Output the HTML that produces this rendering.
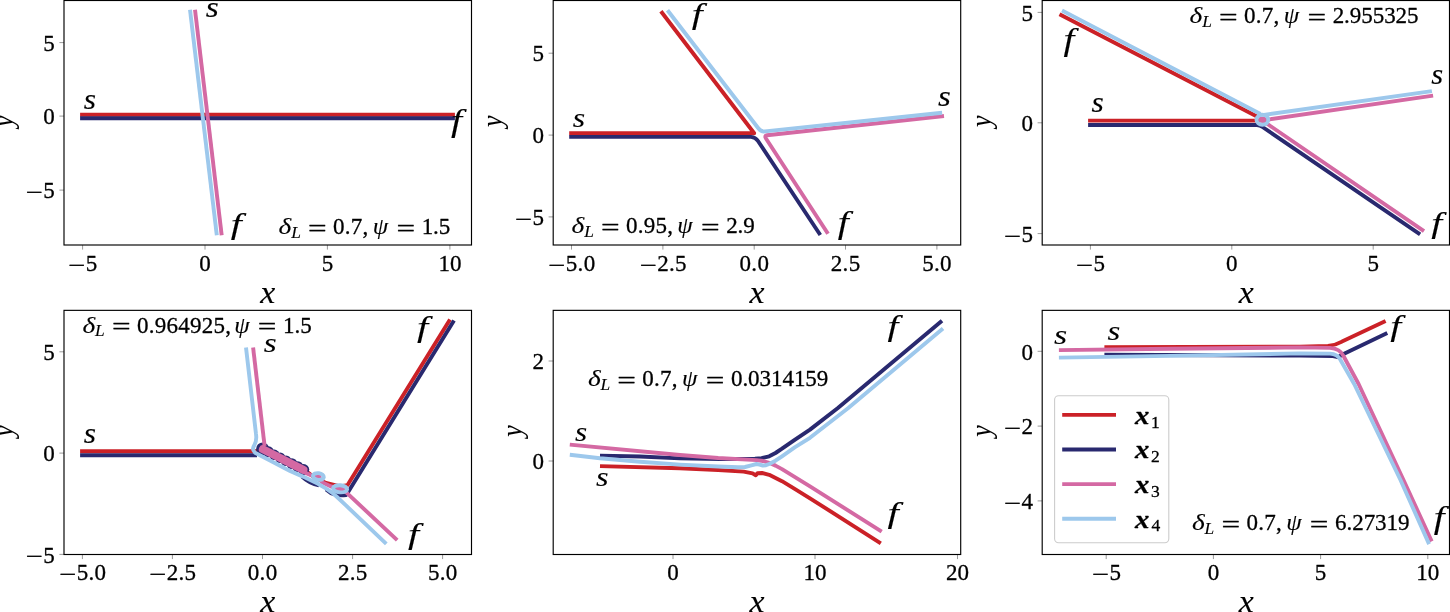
<!DOCTYPE html>
<html><head><meta charset="utf-8"><title>trajectories</title>
<style>
html,body{margin:0;padding:0;background:#fff}
svg{display:block}
text{font-family:"Liberation Serif","DejaVu Serif",serif;fill:#000;stroke:#000;stroke-width:.3px;stroke-linejoin:round}
.r{font-style:normal}
.i{font-style:italic;stroke-width:.12px}
.bi{font-style:italic;font-weight:bold}
.ln{fill:none;stroke-width:3.9;stroke-linecap:butt;stroke-linejoin:round}
.sp{fill:none;stroke:#000;stroke-width:1.15}
.tk{fill:none;stroke:#9a9a9a;stroke-width:1}
</style></head><body>
<svg width="1450" height="612" viewBox="0 0 1450 612">
<rect width="1450" height="612" fill="#fff"/>
<path class="tk" d="M82.6 245v4.6"/>
<text class="r" style="font-size:23px" transform="matrix(1.32 0 0 1 68.3 272.74)">−</text>
<text class="r" style="font-size:23px" x="85.8" y="270.9">5</text>
<path class="tk" d="M205 245v4.6"/>
<text class="r" style="font-size:23px" x="199.25" y="270.9">0</text>
<path class="tk" d="M327.4 245v4.6"/>
<text class="r" style="font-size:23px" x="321.65" y="270.9">5</text>
<path class="tk" d="M449.9 245v4.6"/>
<text class="r" style="font-size:23px" x="438.4" y="270.9">1</text>
<text class="r" style="font-size:23px" x="449.9" y="270.9">0</text>
<path class="tk" d="M64 42.6h-4.6"/>
<text class="r" style="font-size:23px" x="43.22" y="50.8">5</text>
<path class="tk" d="M64 116.1h-4.6"/>
<text class="r" style="font-size:23px" x="43.22" y="124.3">0</text>
<path class="tk" d="M64 190.1h-4.6"/>
<text class="r" style="font-size:23px" transform="matrix(1.32 0 0 1 25.72 200.14)">−</text>
<text class="r" style="font-size:23px" x="43.22" y="198.3">5</text>
<rect class="sp" x="64" y="0.5" width="407.5" height="244.5"/>
<text class="i" style="font-size:31px;" transform="matrix(1.09 0 0 1.01 260.34 302.5)">x</text>
<text class="i" style="font-size:31px" transform="matrix(0 -0.84 0.95 0 13.45 126.99)">y</text>
<path class="ln" stroke="#cb2127" d="M80.1 114.8 454.9 114.8"/>
<path class="ln" stroke="#29296f" d="M80.1 118.2 454.9 118.2"/>
<path class="ln" stroke="#d469a3" d="M195 9.8 221.7 235.3"/>
<path class="ln" stroke="#9dc8ec" d="M190 9.8 216.8 235.3"/>
<text class="i" style="font-size:31px;" transform="matrix(1.08 0 0 0.93 205.8 17.21)">s</text>
<text class="i" style="font-size:31px;" transform="matrix(1.02 0 0 0.93 83.73 109.21)">s</text>
<text class="i" style="font-size:31px;" transform="matrix(1.29 0 0 0.99 451 131.15)">f</text>
<text class="i" style="font-size:31px;" transform="matrix(1.28 0 0 0.98 230.8 234.22)">f</text>
<text class="i" style="font-size:23px" transform="matrix(1.19 0 0 1 278.58 234)">δ</text>
<text class="i" style="font-size:16.1px" transform="matrix(1.08 0 0 1 291.17 237.6)">L</text>
<text class="r" style="font-size:23px" transform="matrix(1.44 0 0 1 308.04 235.84)">=</text>
<text class="r" style="font-size:23px" x="332.98" y="234" letter-spacing="0.25">0.7,</text>
<text class="i" style="font-size:23px" transform="matrix(1.08 0 0 1 372.81 234)">ψ</text>
<text class="r" style="font-size:23px" transform="matrix(1.44 0 0 1 396.44 235.84)">=</text>
<text class="r" style="font-size:23px" x="421.67" y="234" letter-spacing="-0.05">1.5</text>
<path class="tk" d="M571.5 245v4.6"/>
<text class="r" style="font-size:23px" transform="matrix(1.32 0 0 1 548.25 272.74)">−</text>
<text class="r" style="font-size:23px" x="565.75" y="270.9">5</text>
<text class="r" style="font-size:23px" x="577.57" y="270.9">.</text>
<text class="r" style="font-size:23px" x="583.64" y="270.9">0</text>
<path class="tk" d="M662.9 245v4.6"/>
<text class="r" style="font-size:23px" transform="matrix(1.32 0 0 1 639.65 272.74)">−</text>
<text class="r" style="font-size:23px" x="657.15" y="270.9">2</text>
<text class="r" style="font-size:23px" x="668.97" y="270.9">.</text>
<text class="r" style="font-size:23px" x="675.04" y="270.9">5</text>
<path class="tk" d="M754.2 245v4.6"/>
<text class="r" style="font-size:23px" x="739.5" y="270.9">0</text>
<text class="r" style="font-size:23px" x="751.33" y="270.9">.</text>
<text class="r" style="font-size:23px" x="757.4" y="270.9">0</text>
<path class="tk" d="M845.5 245v4.6"/>
<text class="r" style="font-size:23px" x="830.8" y="270.9">2</text>
<text class="r" style="font-size:23px" x="842.62" y="270.9">.</text>
<text class="r" style="font-size:23px" x="848.7" y="270.9">5</text>
<path class="tk" d="M936.9 245v4.6"/>
<text class="r" style="font-size:23px" x="922.2" y="270.9">5</text>
<text class="r" style="font-size:23px" x="934.02" y="270.9">.</text>
<text class="r" style="font-size:23px" x="940.1" y="270.9">0</text>
<path class="tk" d="M553.2 53.2h-4.6"/>
<text class="r" style="font-size:23px" x="532.42" y="61.4">5</text>
<path class="tk" d="M553.2 135.1h-4.6"/>
<text class="r" style="font-size:23px" x="532.42" y="143.3">0</text>
<path class="tk" d="M553.2 216.9h-4.6"/>
<text class="r" style="font-size:23px" transform="matrix(1.32 0 0 1 514.92 226.94)">−</text>
<text class="r" style="font-size:23px" x="532.42" y="225.1">5</text>
<rect class="sp" x="553.2" y="0.5" width="407.5" height="244.5"/>
<text class="i" style="font-size:31px;" transform="matrix(1.09 0 0 1.01 749.54 302.5)">x</text>
<text class="i" style="font-size:31px" transform="matrix(0 -0.84 0.95 0 502.45 126.99)">y</text>
<path class="ln" stroke="#cb2127" d="M569.2 133.3 754.2 133.3 660.9 11.3"/>
<path class="ln" stroke="#29296f" d="M569.2 136.9 L751 136.9 Q755.5 137.2 758 141 L820.3 235"/>
<path class="ln" stroke="#d469a3" d="M944 116 L767 135.2 Q764.3 135.8 765.8 138.3 L828 233.7"/>
<path class="ln" stroke="#9dc8ec" d="M667.5 10.3 L758.3 128.3 Q761 131.8 765 131.4 L942.1 112.8"/>
<text class="i" style="font-size:31px;" transform="matrix(1.27 0 0 0.98 691.81 24.44)">f</text>
<text class="i" style="font-size:31px;" transform="matrix(1.03 0 0 0.91 572.72 126.82)">s</text>
<text class="i" style="font-size:31px;" transform="matrix(1.06 0 0 0.92 938.01 106.31)">s</text>
<text class="i" style="font-size:31px;" transform="matrix(1.28 0 0 0.99 837.8 233.15)">f</text>
<text class="i" style="font-size:23px" transform="matrix(1.19 0 0 1 571.58 233.4)">δ</text>
<text class="i" style="font-size:16.1px" transform="matrix(1.08 0 0 1 584.17 237)">L</text>
<text class="r" style="font-size:23px" transform="matrix(1.44 0 0 1 601.04 235.24)">=</text>
<text class="r" style="font-size:23px" x="625.98" y="233.4" letter-spacing="0.25">0.95,</text>
<text class="i" style="font-size:23px" transform="matrix(1.08 0 0 1 677.31 233.4)">ψ</text>
<text class="r" style="font-size:23px" transform="matrix(1.44 0 0 1 700.94 235.24)">=</text>
<text class="r" style="font-size:23px" x="726.16" y="233.4" letter-spacing="-0.05">2.9</text>
<path class="tk" d="M1090.4 245v4.6"/>
<text class="r" style="font-size:23px" transform="matrix(1.32 0 0 1 1076.1 272.74)">−</text>
<text class="r" style="font-size:23px" x="1093.6" y="270.9">5</text>
<path class="tk" d="M1231.8 245v4.6"/>
<text class="r" style="font-size:23px" x="1226.05" y="270.9">0</text>
<path class="tk" d="M1373.2 245v4.6"/>
<text class="r" style="font-size:23px" x="1367.45" y="270.9">5</text>
<path class="tk" d="M1042.2 12.4h-4.6"/>
<text class="r" style="font-size:23px" x="1021.42" y="20.6">5</text>
<path class="tk" d="M1042.2 122.8h-4.6"/>
<text class="r" style="font-size:23px" x="1021.42" y="131">0</text>
<path class="tk" d="M1042.2 233.6h-4.6"/>
<text class="r" style="font-size:23px" transform="matrix(1.32 0 0 1 1003.92 243.64)">−</text>
<text class="r" style="font-size:23px" x="1021.42" y="241.8">5</text>
<rect class="sp" x="1042.2" y="0.5" width="407.3" height="244.5"/>
<text class="i" style="font-size:31px;" transform="matrix(1.09 0 0 1.01 1238.64 302.5)">x</text>
<text class="i" style="font-size:31px" transform="matrix(0 -0.84 0.95 0 991.45 126.99)">y</text>
<path class="ln" stroke="#cb2127" d="M1088.1 120.6 L1259 120.6 M1059.5 14.2 L1257 116.5"/>
<path class="ln" stroke="#29296f" d="M1088.1 125.0 L1257 125.0 Q1260 125.2 1262.5 127 L1420.1 234.3"/>
<path class="ln" stroke="#d469a3" d="M1433.1 95.6 L1268 119.6 Q1262 120.5 1266 123 L1424 231.2"/>
<ellipse cx="1262.4" cy="119.8" rx="4.3" ry="3.3" fill="#d469a3"/>
<path class="ln" stroke="#9dc8ec" d="M1062 10.6 L1260.5 113.9 M1264 114.9 L1431.9 91.1 M1256.5 119.7 a5.9 5 0 1 0 11.8 0 a5.9 5 0 1 0 -11.8 0Z"/>
<text class="i" style="font-size:31px;" transform="matrix(1.26 0 0 0.99 1063.41 49.87)">f</text>
<text class="i" style="font-size:31px;" transform="matrix(1.02 0 0 0.93 1091.53 111.71)">s</text>
<text class="i" style="font-size:31px;" transform="matrix(0.99 0 0 0.93 1431.14 84.11)">s</text>
<text class="i" style="font-size:31px;" transform="matrix(1.27 0 0 0.97 1431.21 232.97)">f</text>
<text class="i" style="font-size:23px" transform="matrix(1.19 0 0 1 1189.58 23.3)">δ</text>
<text class="i" style="font-size:16.1px" transform="matrix(1.08 0 0 1 1202.17 26.9)">L</text>
<text class="r" style="font-size:23px" transform="matrix(1.44 0 0 1 1219.04 25.14)">=</text>
<text class="r" style="font-size:23px" x="1243.98" y="23.3" letter-spacing="0.25">0.7,</text>
<text class="i" style="font-size:23px" transform="matrix(1.08 0 0 1 1283.81 23.3)">ψ</text>
<text class="r" style="font-size:23px" transform="matrix(1.44 0 0 1 1307.44 25.14)">=</text>
<text class="r" style="font-size:23px" x="1332.66" y="23.3" letter-spacing="-0.05">2.955325</text>
<path class="tk" d="M82.4 554.5v4.6"/>
<text class="r" style="font-size:23px" transform="matrix(1.32 0 0 1 59.15 582.24)">−</text>
<text class="r" style="font-size:23px" x="76.65" y="580.4">5</text>
<text class="r" style="font-size:23px" x="88.47" y="580.4">.</text>
<text class="r" style="font-size:23px" x="94.54" y="580.4">0</text>
<path class="tk" d="M172.4 554.5v4.6"/>
<text class="r" style="font-size:23px" transform="matrix(1.32 0 0 1 149.15 582.24)">−</text>
<text class="r" style="font-size:23px" x="166.65" y="580.4">2</text>
<text class="r" style="font-size:23px" x="178.47" y="580.4">.</text>
<text class="r" style="font-size:23px" x="184.54" y="580.4">5</text>
<path class="tk" d="M262.5 554.5v4.6"/>
<text class="r" style="font-size:23px" x="247.8" y="580.4">0</text>
<text class="r" style="font-size:23px" x="259.62" y="580.4">.</text>
<text class="r" style="font-size:23px" x="265.7" y="580.4">0</text>
<path class="tk" d="M352.6 554.5v4.6"/>
<text class="r" style="font-size:23px" x="337.9" y="580.4">2</text>
<text class="r" style="font-size:23px" x="349.73" y="580.4">.</text>
<text class="r" style="font-size:23px" x="355.8" y="580.4">5</text>
<path class="tk" d="M442.6 554.5v4.6"/>
<text class="r" style="font-size:23px" x="427.9" y="580.4">5</text>
<text class="r" style="font-size:23px" x="439.73" y="580.4">.</text>
<text class="r" style="font-size:23px" x="445.8" y="580.4">0</text>
<path class="tk" d="M64 351.8h-4.6"/>
<text class="r" style="font-size:23px" x="43.22" y="360">5</text>
<path class="tk" d="M64 453.1h-4.6"/>
<text class="r" style="font-size:23px" x="43.22" y="461.3">0</text>
<path class="tk" d="M64 554.4h-4.6"/>
<text class="r" style="font-size:23px" transform="matrix(1.32 0 0 1 25.72 564.44)">−</text>
<text class="r" style="font-size:23px" x="43.22" y="562.6">5</text>
<rect class="sp" x="64" y="310.35" width="407.5" height="244.15"/>
<text class="i" style="font-size:31px;" transform="matrix(1.09 0 0 1.01 260.34 612)">x</text>
<text class="i" style="font-size:31px" transform="matrix(0 -0.84 0.95 0 13.45 436.69)">y</text>
<path class="ln" stroke="#cb2127" d="M80.1 451.2 255 451.2 262 450 303 468.5 313 476.5 326 483 340 486.5 347.4 485.2 450 319.5"/>
<path class="ln" stroke="#29296f" d="M80.1 455.2 257 455.2"/>
<circle cx="262.6" cy="448.9" r="6.5" fill="#29296f"/>
<circle cx="268.46" cy="451.86" r="5.5" fill="#29296f"/>
<circle cx="274.31" cy="454.81" r="5.2" fill="#29296f"/>
<circle cx="280.17" cy="457.77" r="5.2" fill="#29296f"/>
<circle cx="286.03" cy="460.73" r="5.3" fill="#29296f"/>
<circle cx="291.89" cy="463.69" r="5.4" fill="#29296f"/>
<circle cx="297.74" cy="466.64" r="5.5" fill="#29296f"/>
<circle cx="303.6" cy="469.6" r="5.6" fill="#29296f"/>
<path class="ln" stroke="#29296f" d="M302 476.6 Q309.5 483.6 319 485.4"/>
<path class="ln" stroke="#29296f" d="M326 489.5 L331 493.2 Q338 496.2 346 495 L348.0 492.2 L454.0 320.5"/>
<path class="ln" stroke="#d469a3" d="M253.1 347.5 264.6 446"/>
<path d="M262.9 449.25L303.4 469.8" fill="none" stroke="#d469a3" stroke-width="8.1" stroke-linecap="round"/>
<path class="ln" stroke="#d469a3" d="M302 469.8 305 472.6 311 475.2 318.3 476.6 322 482.3 331 486.5 340.1 488.7 346.8 492.9 397.2 540.1"/>
<path class="ln" stroke="#d469a3" d="M314.8 476.5 L321.5 476.5 M334.5 488.7 L345.5 488.7" stroke-width="3"/>
<path class="ln" stroke="#9dc8ec" d="M246 347.5 L256.0 434 Q257 441 254.2 445.5 Q251.5 449.3 255 452.7 L270 460.5 L290 470.9 L303 476.6 L318 483.8 L327 489.1 L332 492.6 L336.5 496.5 L345.4 504.9 L386.3 543.8"/>
<ellipse class="ln" stroke="#9dc8ec" cx="318.4" cy="476.5" rx="5.5" ry="3.35" transform="rotate(8 318.4 476.5)"/>
<ellipse class="ln" stroke="#9dc8ec" cx="340.1" cy="488.8" rx="7.1" ry="3.55" transform="rotate(5 340.1 488.8)"/>
<text class="i" style="font-size:31px;" transform="matrix(1.02 0 0 0.93 83.73 443.11)">s</text>
<text class="i" style="font-size:31px;" transform="matrix(1.07 0 0 0.9 263.8 352.32)">s</text>
<text class="i" style="font-size:31px;" transform="matrix(1.3 0 0 0.98 417 337.2)">f</text>
<text class="i" style="font-size:31px;" transform="matrix(1.29 0 0 0.98 408.1 543.82)">f</text>
<text class="i" style="font-size:23px" transform="matrix(1.19 0 0 1 82.48 332.5)">δ</text>
<text class="i" style="font-size:16.1px" transform="matrix(1.08 0 0 1 95.07 336.1)">L</text>
<text class="r" style="font-size:23px" transform="matrix(1.44 0 0 1 111.94 334.34)">=</text>
<text class="r" style="font-size:23px" x="136.88" y="332.5" letter-spacing="0.25">0.964925,</text>
<text class="i" style="font-size:23px" transform="matrix(1.08 0 0 1 234.21 332.5)">ψ</text>
<text class="r" style="font-size:23px" transform="matrix(1.44 0 0 1 257.84 334.34)">=</text>
<text class="r" style="font-size:23px" x="283.07" y="332.5" letter-spacing="-0.05">1.5</text>
<path class="tk" d="M673 554.5v4.6"/>
<text class="r" style="font-size:23px" x="667.25" y="580.4">0</text>
<path class="tk" d="M815 554.5v4.6"/>
<text class="r" style="font-size:23px" x="803.5" y="580.4">1</text>
<text class="r" style="font-size:23px" x="815" y="580.4">0</text>
<path class="tk" d="M957.5 554.5v4.6"/>
<text class="r" style="font-size:23px" x="946" y="580.4">2</text>
<text class="r" style="font-size:23px" x="957.5" y="580.4">0</text>
<path class="tk" d="M553.2 361h-4.6"/>
<text class="r" style="font-size:23px" x="532.42" y="369.2">2</text>
<path class="tk" d="M553.2 461h-4.6"/>
<text class="r" style="font-size:23px" x="532.42" y="469.2">0</text>
<rect class="sp" x="553.2" y="310.35" width="407.5" height="244.15"/>
<text class="i" style="font-size:31px;" transform="matrix(1.09 0 0 1.01 749.54 612)">x</text>
<text class="i" style="font-size:31px" transform="matrix(0 -0.84 0.96 0 521.68 436.69)">y</text>
<path class="ln" stroke="#cb2127" d="M600 466.1 680 468.2 718.2 470 743.7 471.6 752.6 473.3 755.8 475.3 757.5 473.2 762 473 769.2 474.8 782 481.2 794.7 488.8 810 498.3 880.8 543.3"/>
<path class="ln" stroke="#29296f" d="M600 455.6 640 456.5 680 458.4 720 459 755 458.8 761.6 458.2 769.2 456.3 775.5 453 782 448.7 794.7 439.8 810 429.6 837.9 408 942 320.7"/>
<path class="ln" stroke="#d469a3" d="M569.8 444.6 680 455 718.2 458 756.5 460.1 763 461 769.2 462.8 775.5 465.6 782 469.1 810 486.3 881.7 531.7"/>
<path class="ln" stroke="#9dc8ec" d="M569.8 454.8 600 458.3 640 461.8 680 464.6 718.2 466.5 738 467.3 745 467 751.4 465.3 756.5 464 759.5 464.6 762.8 465.5 766 465.2 769.2 464 775.5 460.7 782 456.3 794.7 447.4 810 437.8 848.3 408 943 328.5"/>
<text class="i" style="font-size:31px;" transform="matrix(1.01 0 0 0.91 575.03 440.72)">s</text>
<text class="i" style="font-size:31px;" transform="matrix(1.04 0 0 0.89 596.02 485.63)">s</text>
<text class="i" style="font-size:31px;" transform="matrix(1.27 0 0 0.97 887.51 335.97)">f</text>
<text class="i" style="font-size:31px;" transform="matrix(1.31 0 0 0.97 887.49 522.97)">f</text>
<text class="i" style="font-size:23px" transform="matrix(1.19 0 0 1 587.88 386.4)">δ</text>
<text class="i" style="font-size:16.1px" transform="matrix(1.08 0 0 1 600.47 390)">L</text>
<text class="r" style="font-size:23px" transform="matrix(1.44 0 0 1 617.34 388.24)">=</text>
<text class="r" style="font-size:23px" x="642.28" y="386.4" letter-spacing="0.25">0.7,</text>
<text class="i" style="font-size:23px" transform="matrix(1.08 0 0 1 682.11 386.4)">ψ</text>
<text class="r" style="font-size:23px" transform="matrix(1.44 0 0 1 705.74 388.24)">=</text>
<text class="r" style="font-size:23px" x="730.96" y="386.4" letter-spacing="-0.05">0.0314159</text>
<path class="tk" d="M1106.2 554.5v4.6"/>
<text class="r" style="font-size:23px" transform="matrix(1.32 0 0 1 1091.9 582.24)">−</text>
<text class="r" style="font-size:23px" x="1109.4" y="580.4">5</text>
<path class="tk" d="M1213.4 554.5v4.6"/>
<text class="r" style="font-size:23px" x="1207.65" y="580.4">0</text>
<path class="tk" d="M1320.6 554.5v4.6"/>
<text class="r" style="font-size:23px" x="1314.85" y="580.4">5</text>
<path class="tk" d="M1427.8 554.5v4.6"/>
<text class="r" style="font-size:23px" x="1416.3" y="580.4">1</text>
<text class="r" style="font-size:23px" x="1427.8" y="580.4">0</text>
<path class="tk" d="M1042.2 351.3h-4.6"/>
<text class="r" style="font-size:23px" x="1021.42" y="359.5">0</text>
<path class="tk" d="M1042.2 426.1h-4.6"/>
<text class="r" style="font-size:23px" transform="matrix(1.32 0 0 1 1003.92 436.14)">−</text>
<text class="r" style="font-size:23px" x="1021.42" y="434.3">2</text>
<path class="tk" d="M1042.2 500.9h-4.6"/>
<text class="r" style="font-size:23px" transform="matrix(1.32 0 0 1 1003.92 510.94)">−</text>
<text class="r" style="font-size:23px" x="1021.42" y="509.1">4</text>
<rect class="sp" x="1042.2" y="310.35" width="407.3" height="244.15"/>
<text class="i" style="font-size:31px;" transform="matrix(1.09 0 0 1.01 1238.64 612)">x</text>
<text class="i" style="font-size:31px" transform="matrix(0 -0.84 0.95 0 991.45 436.69)">y</text>
<path class="ln" stroke="#cb2127" d="M1104.4 347.1 L1300 346.6 L1328 346 Q1336 345 1342 341.6 L1385.6 321"/>
<path class="ln" stroke="#29296f" d="M1104.4 354.7 L1300 355.6 L1333 356 L1338 357.2 L1344.6 353.4 L1387.3 333"/>
<path class="ln" stroke="#d469a3" d="M1058.9 350.1 L1170 348.8 L1300 347.4 L1330 347.9 Q1340 348.5 1343.5 356 L1358.6 384 L1403.5 480 L1431.7 541.4"/>
<path class="ln" stroke="#9dc8ec" d="M1058.9 357.6 L1170 355.9 L1300 353.4 L1330 353.6 Q1337.5 353.8 1340.5 360 L1354.2 384 L1400.5 480 L1429.1 544.1"/>
<text class="i" style="font-size:31px;" transform="matrix(1.09 0 0 0.9 1053.89 343.52)">s</text>
<text class="i" style="font-size:31px;" transform="matrix(1.06 0 0 0.91 1107.51 339.72)">s</text>
<text class="i" style="font-size:31px;" transform="matrix(1.27 0 0 0.98 1390.21 336.2)">f</text>
<text class="i" style="font-size:31px;" transform="matrix(1.26 0 0 0.99 1433.71 528.07)">f</text>
<rect x="1054.6" y="395.8" width="114.2" height="147" rx="4" ry="4" fill="#fff" fill-opacity="0.8" stroke="#ccc" stroke-width="1.1"/>
<path class="ln" stroke="#cb2127" d="M1062.2 414.9H1116"/>
<text class="bi" style="font-size:25px;" transform="matrix(1.15 0 0 1.03 1135.09 423.8)">x</text>
<text class="r" style="font-size:17.5px" x="1150.92" y="427.6">1</text>
<path class="ln" stroke="#29296f" d="M1062.2 449.5H1116"/>
<text class="bi" style="font-size:25px;" transform="matrix(1.15 0 0 1.03 1135.09 458.4)">x</text>
<text class="r" style="font-size:17.5px" x="1151.11" y="462.2">2</text>
<path class="ln" stroke="#d469a3" d="M1062.2 484.1H1116"/>
<text class="bi" style="font-size:25px;" transform="matrix(1.15 0 0 1.03 1135.09 493)">x</text>
<text class="r" style="font-size:17.5px" x="1151.03" y="496.8">3</text>
<path class="ln" stroke="#9dc8ec" d="M1062.2 518.7H1116"/>
<text class="bi" style="font-size:25px;" transform="matrix(1.15 0 0 1.03 1135.09 527.6)">x</text>
<text class="r" style="font-size:17.5px" x="1151.55" y="531.4">4</text>
<text class="i" style="font-size:23px" transform="matrix(1.19 0 0 1 1191.98 530)">δ</text>
<text class="i" style="font-size:16.1px" transform="matrix(1.08 0 0 1 1204.57 533.6)">L</text>
<text class="r" style="font-size:23px" transform="matrix(1.44 0 0 1 1221.44 531.84)">=</text>
<text class="r" style="font-size:23px" x="1246.38" y="530" letter-spacing="0.25">0.7,</text>
<text class="i" style="font-size:23px" transform="matrix(1.08 0 0 1 1286.21 530)">ψ</text>
<text class="r" style="font-size:23px" transform="matrix(1.44 0 0 1 1309.84 531.84)">=</text>
<text class="r" style="font-size:23px" x="1335.07" y="530" letter-spacing="-0.05">6.27319</text>
</svg>
</body></html>
